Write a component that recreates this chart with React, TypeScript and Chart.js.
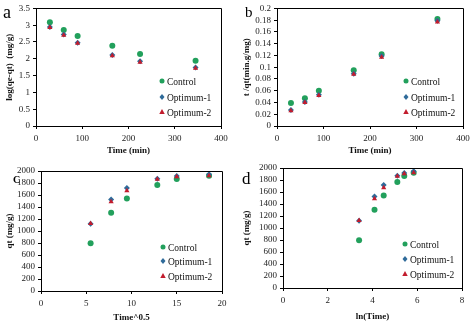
import React, { useEffect, useRef } from 'react';
import { Chart, registerables } from 'chart.js';
Chart.register(...registerables);

const seriesNames = ['Control', 'Optimum-1', 'Optimum-2'];
const timeMin = [30, 60, 90, 165, 225, 345];
const sqrtTime = [5.48, 7.75, 9.49, 12.85, 15.0, 18.57];
const lnTime = [3.4, 4.09, 4.5, 5.11, 5.42, 5.84];
const aControl = [3.09, 2.86, 2.68, 2.39, 2.14, 1.94];
const aOpt1 = [2.95, 2.72, 2.48, 2.11, 1.93, 1.74];
const aOpt2 = [2.93, 2.7, 2.46, 2.09, 1.9, 1.72];
const bControl = [0.039, 0.047, 0.06, 0.095, 0.122, 0.182];
const bOpt1 = [0.027, 0.041, 0.053, 0.089, 0.119, 0.179];
const bOpt2 = [0.026, 0.04, 0.052, 0.088, 0.117, 0.177];
const qtControl = [797, 1304, 1543, 1766, 1866, 1922];
const qtOpt1 = [1120, 1526, 1716, 1872, 1916, 1944];
const qtOpt2 = [1125, 1487, 1671, 1861, 1905, 1922];

const colors = ['#22a05c', '#2f6b9a', '#c21c2d'];
const styles = ['circle', 'rectRot', 'triangle'];
const FONT = '"Liberation Serif", "Times New Roman", "DejaVu Serif", serif';

type Panel = {
  letter: string; letterX: number; letterY: number; letterSize: number; letterBold: boolean;
  xs: number[]; ys: number[][];
  xMin: number; xMax: number; xStep: number; yMin: number; yMax: number; yStep: number;
  xTitle: string; yTitle: string;
  pad: { left: number; right: number; top: number; bottom: number };
  yW: number; xH: number;
  legX: number; legY: number[];
};

const panels: Panel[] = [
  {
    letter: 'a', letterX: 3, letterY: 18, letterSize: 18, letterBold: false,
    xs: timeMin, ys: [aControl, aOpt1, aOpt2],
    xMin: 0, xMax: 400, xStep: 100, yMin: 0, yMax: 3.5, yStep: 0.5,
    xTitle: 'Time (min)', yTitle: 'log(qe-qt)  (mg/g)',
    pad: { left: 4, right: 253, top: 6, bottom: 167 }, yW: 32, xH: 30,
    legX: 162, legY: [81, 97, 112],
  },
  {
    letter: 'b', letterX: 245, letterY: 17, letterSize: 15, letterBold: false,
    xs: timeMin, ys: [bControl, bOpt1, bOpt2],
    xMin: 0, xMax: 400, xStep: 100, yMin: 0, yMax: 0.2, yStep: 0.02,
    xTitle: 'Time (min)', yTitle: 't /qt(min.g/mg)',
    pad: { left: 241, right: 11, top: 6, bottom: 167 }, yW: 36, xH: 30,
    legX: 406, legY: [81, 97, 112],
  },
  {
    letter: 'C', letterX: 13, letterY: 183, letterSize: 10, letterBold: true,
    xs: sqrtTime, ys: [qtControl, qtOpt1, qtOpt2],
    xMin: 0, xMax: 20, xStep: 5, yMin: 0, yMax: 2000, yStep: 200,
    xTitle: 'Time^0.5', yTitle: 'qt (mg/g)',
    pad: { left: 4, right: 252, top: 171, bottom: 0 }, yW: 37, xH: 32,
    legX: 163, legY: [247, 261, 276],
  },
  {
    letter: 'd', letterX: 242, letterY: 184, letterSize: 17, letterBold: false,
    xs: lnTime, ys: [qtControl, qtOpt1, qtOpt2],
    xMin: 0, xMax: 8, xStep: 2, yMin: 0, yMax: 2000, yStep: 200,
    xTitle: 'ln(Time)', yTitle: 'qt (mg/g)',
    pad: { left: 241, right: 12, top: 168, bottom: 1 }, yW: 42, xH: 34,
    legX: 405, legY: [244, 259, 274],
  },
];

function drawMarker(ctx: CanvasRenderingContext2D, style: string, x: number, y: number, r: number, color: string) {
  ctx.save();
  ctx.fillStyle = color;
  ctx.beginPath();
  if (style === 'circle') {
    ctx.arc(x, y, r, 0, Math.PI * 2);
  } else if (style === 'rectRot') {
    ctx.moveTo(x, y - r * 1.2);
    ctx.lineTo(x + r, y);
    ctx.lineTo(x, y + r * 1.2);
    ctx.lineTo(x - r, y);
    ctx.closePath();
  } else {
    ctx.moveTo(x, y - r * 1.2);
    ctx.lineTo(x + r * 1.1, y + r * 0.8);
    ctx.lineTo(x - r * 1.1, y + r * 0.8);
    ctx.closePath();
  }
  ctx.fill();
  ctx.restore();
}

const decorPlugin = {
  id: 'decor',
  afterDraw(chart: any, _args: any, opts: any) {
    const ctx: CanvasRenderingContext2D = chart.ctx;
    const p: Panel = opts.panel;
    const a = chart.chartArea;
    ctx.save();
    ctx.strokeStyle = '#000';
    ctx.lineWidth = 1;
    ctx.beginPath();
    ctx.moveTo(Math.round(a.left) + 0.5, Math.round(a.top) + 0.5);
    ctx.lineTo(Math.round(a.right) + 0.5, Math.round(a.top) + 0.5);
    ctx.lineTo(Math.round(a.right) + 0.5, Math.round(a.bottom) + 0.5);
    ctx.stroke();
    ctx.font = `9.5px ${FONT}`;
    ctx.textBaseline = 'middle';
    seriesNames.forEach((n, i) => {
      drawMarker(ctx, styles[i], p.legX, p.legY[i], 2.5, colors[i]);
      ctx.fillStyle = '#111';
      ctx.fillText(n, p.legX + 5, p.legY[i] + 1);
    });
    ctx.font = `${p.letterBold ? 'bold ' : ''}${p.letterSize}px ${FONT}`;
    ctx.textBaseline = 'alphabetic';
    ctx.fillStyle = '#000';
    ctx.fillText(p.letter, p.letterX, p.letterY);
    ctx.restore();
  },
};

function fmt(v: number) {
  return String(Math.round(v * 1000) / 1000);
}

function PanelChart({ p }: { p: Panel }) {
  const ref = useRef<HTMLCanvasElement>(null);
  useEffect(() => {
    if (!ref.current) return;
    const datasets = seriesNames.map((n, i) => ({
      label: n,
      data: p.xs.map((x, j) => ({ x, y: p.ys[i][j] })),
      pointStyle: styles[i],
      pointRadius: 3,
      pointBackgroundColor: colors[i],
      pointBorderColor: colors[i],
      pointBorderWidth: 0,
      showLine: false,
      order: 2 - i,
    }));
    const tickFont = { family: FONT, size: 9 };
    const titleFont = { family: FONT, size: 9, weight: 'bold' as const };
    const chart = new Chart(ref.current, {
      type: 'scatter',
      data: { datasets },
      plugins: [decorPlugin],
      options: {
        animation: false,
        responsive: false,
        maintainAspectRatio: false,
        layout: { padding: p.pad },
        plugins: {
          legend: { display: false },
          tooltip: { enabled: false },
          decor: { panel: p },
        } as any,
        scales: {
          x: {
            type: 'linear',
            min: p.xMin, max: p.xMax,
            ticks: { stepSize: p.xStep, autoSkip: false, color: '#222', font: tickFont, padding: 4, callback: (v: any) => fmt(Number(v)), maxRotation: 0 },
            grid: { drawOnChartArea: false, drawTicks: true, tickLength: 3, color: '#000' },
            border: { display: true, color: '#000', width: 1 },
            title: { display: true, text: p.xTitle, color: '#111', font: titleFont, padding: 0 },
            afterFit: (s: any) => { s.height = p.xH; },
          },
          y: {
            type: 'linear',
            min: p.yMin, max: p.yMax,
            ticks: { stepSize: p.yStep, autoSkip: false, color: '#222', font: tickFont, padding: 3, callback: (v: any) => fmt(Number(v)) },
            grid: { drawOnChartArea: false, drawTicks: true, tickLength: 3, color: '#000' },
            border: { display: true, color: '#000', width: 1 },
            title: { display: true, text: p.yTitle, color: '#111', font: titleFont, padding: 0 },
            afterFit: (s: any) => { s.width = p.yW; },
          },
        },
      } as any,
    });
    let alive = true;
    if ((document as any).fonts && (document as any).fonts.load) {
      Promise.all([
        (document as any).fonts.load('10px "Liberation Serif"'),
        (document as any).fonts.load('bold 10px "Liberation Serif"'),
      ]).then(() => { if (alive) chart.update(); }).catch(() => {});
    }
    return () => { alive = false; chart.destroy(); };
  }, [p]);
  return (
    <canvas
      ref={ref}
      width={474}
      height={323}
      style={{ position: 'absolute', left: 0, top: 0, width: 474, height: 323 }}
    />
  );
}

export default function App() {
  return (
    <div style={{ position: 'absolute', left: 0, top: 0, width: 474, height: 323, background: '#fff', overflow: 'hidden' }}>
      {panels.map((p, i) => (
        <PanelChart key={i} p={p} />
      ))}
    </div>
  );
}
